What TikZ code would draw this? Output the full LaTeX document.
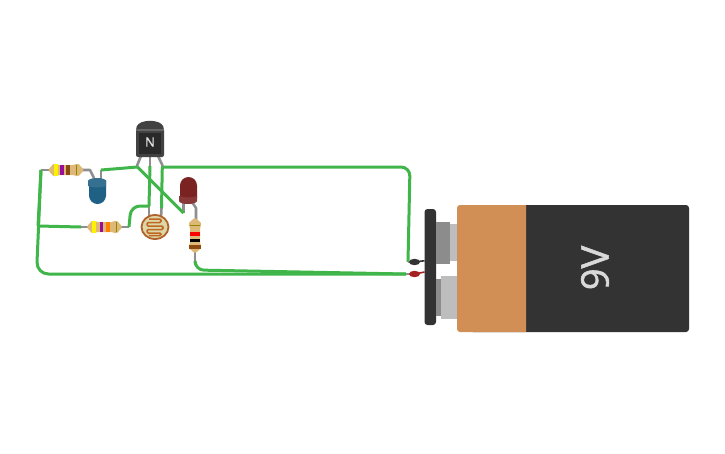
\documentclass[tikz,border=0pt]{standalone}
\usepackage{fontspec}
\setmainfont{Open Sans}
\newfontfamily\thickfont[FakeBold=1.5]{Open Sans}
\usepackage{tikz}
\definecolor{wiregreen}{HTML}{3FB54A}
\definecolor{leadgray}{HTML}{8F8F8F}
\definecolor{battblack}{HTML}{333333}
\definecolor{battorange}{HTML}{D18F55}
\definecolor{resbody}{HTML}{DDB877}
\definecolor{ledblue}{HTML}{1F6085}
\definecolor{ledred}{HTML}{7B2222}
\definecolor{ldrbrown}{HTML}{B0622A}
\definecolor{ldrfill}{HTML}{DDD6A6}
\definecolor{resviolet}{HTML}{9A0F9A}
\definecolor{resbrown}{HTML}{8B4A12}
\definecolor{clipred}{HTML}{A62222}
\tikzset{
  wire/.style={draw=wiregreen, line width=3pt, rounded corners=9pt},
  lead/.style={draw=leadgray, line width=2.6pt, line join=round},
}
\newcommand{\resband}[3]{\fill[#3] (#1,-5) rectangle (#2,5);}
\newcommand{\resbodyshape}{
  \fill[resbody, rounded corners=1.5pt] (-18,0) -- (-12,-6.800) -- (-8,-5) -- (8,-5) -- (12,-6.800) -- (18,0) -- (12,6.800) -- (8,5) -- (-8,5) -- (-12,6.800) -- cycle;
}
\begin{document}
\begin{tikzpicture}[x=1pt, y=-1pt]
  \useasboundingbox (0,0) rectangle (725,453);
  % terminals
  \coordinate (rone a) at (41,170);
  \coordinate (rtwo a) at (81,227);
  \coordinate (rtwo b) at (129,227);
  \coordinate (rthree b) at (195,263);
  \coordinate (blue b) at (101,170);
  \coordinate (npn c) at (137.500,167);
  \coordinate (npn b) at (150,166);
  \coordinate (npn e) at (162.300,167);
  \coordinate (red a) at (183.500,213);
  \coordinate (ldr a) at (149,206);
  \coordinate (ldr b) at (161.500,208);
  \coordinate (clip neg) at (408,262);
  \coordinate (clip pos) at (406,274);
  \coordinate (rail) at (38,226);
  % leads
  \draw[lead] (rone a) -- (50,170);
  \draw[lead] (82,170) -- (90,170) -- (94,178);
  \draw[lead] (blue b) -- (101,180);
  \draw[lead] (rtwo a) -- (88,227);
  \draw[lead] (121,227) -- (rtwo b);
  \draw[lead] (npn c) -- (137.300,165) -- (141,156);
  \draw[lead] (npn b) -- (150,156);
  \draw[lead] (npn e) -- (162.300,165) -- (158,156);
  \draw[lead] (ldr a) -- (149,218);
  \draw[lead] (ldr b) -- (161,218);
  \draw[lead] (red a) -- (183.500,200);
  \draw[lead] (192,202) -- (196,208) -- (196,222);
  \draw[lead] (rthree b) -- (195,250);
  % blue led
  \fill[ledblue] (89,180) -- (106,180) -- (106,195.500) arc (0:180:8.500) -- cycle;
  \fill[ledblue!90!white] (88,181) arc (180:360:9 and 3) -- (106,186) .. controls (100,188) and (94,188) .. (88,186) -- cycle;
  % npn
  \fill[black!74, rounded corners=2pt] (136,157) -- (136,128) .. controls (140,119) and (160,119) .. (164,128) -- (164,157) -- cycle;
  \fill[black!60] (136,128.500) -- (164,128.500) -- (164,130.500) -- (136,130.500) -- cycle;
  \fill[black!84] (139,133) rectangle (161,154);
  \node[text=white!88!black, font=\thickfont\fontsize{13}{13}\selectfont] (npn label) at (150,142) {N};
  % red led
  \fill[ledred] (180,198) -- (180,185.500) arc (180:360:8.500) -- (197,198) -- cycle;
  \fill[ledred!90!white] (179,196) .. controls (185,198) and (191,198) .. (197,196) -- (197,201) arc (0:180:9 and 3) -- cycle;
  % resistors
  \begin{scope}[shift={(66,170)}]
    \resbodyshape
    \fill[yellow] (-12.500,-6.300) rectangle (-8.500,6.300);
    \resband{-6}{-2.500}{resviolet}
    \resband{0}{3.500}{resbrown}
    \resband{9.500}{10.500}{olive}
  \end{scope}
  \begin{scope}[shift={(104.500,227)}]
    \resbodyshape
    \fill[yellow] (-12.500,-6.300) rectangle (-8.500,6.300);
    \resband{-5}{-1.500}{resviolet}
    \resband{1.500}{5.500}{orange}
    \resband{11.500}{12.500}{olive}
  \end{scope}
  \begin{scope}[shift={(195,235.500)}, rotate=90]
    \resbodyshape
    \fill[resbrown] (-13,-6.300) rectangle (-9.500,6.300);
    \resband{-6.500}{-3.500}{black}
    \resband{0}{3.500}{red}
    \resband{10}{11}{olive}
  \end{scope}
  % ldr
  \draw[fill=ldrfill, draw=ldrbrown, line width=1.8pt] (155,227) ellipse (13.500 and 12);
  \draw[draw=ldrbrown!80!orange, line width=1.5pt, rounded corners=1.2pt] (149,219) -- (161,219) -- (161,222.500) -- (147,222.500) -- (147,226) -- (163,226) -- (163,229.500) -- (147,229.500) -- (147,233) -- (161,233) -- (161,235.500) -- (149,235.500);
  % wires
  \draw[wire] (rone a) -- (rail);
  \draw[wire] (rail) -- (rtwo a);
  \draw[wire, rounded corners=12pt] (rone a) -- (36.500,274) -- (clip pos);
  \draw[wire] (blue b) -- (npn c);
  \draw[wire, rounded corners=0pt] (npn c) -- (red a);
  \draw[wire] (npn b) -- (ldr a);
  \draw[wire] (ldr a) -- (131,206) -- (rtwo b);
  \draw[wire] (npn e) -- (ldr b);
  \draw[wire] (npn e) -- (410,167) -- (clip neg);
  \draw[wire] (rthree b) -- (195,270) -- (clip pos);
  % battery
  \fill[battblack, rounded corners=3pt] (424.500,209) rectangle (436,325);
  \fill[black!45] (436,222) rectangle (449.500,264);
  \fill[black!26] (449.500,224) rectangle (458,261);
  \fill[black!45] (436,279) rectangle (441,316);
  \fill[black!26] (441,276) rectangle (458,319);
  \fill[battblack, rounded corners=3pt] (470,205) rectangle (689,332);
  \fill[battorange] (526,205) [rounded corners=3pt] -- (457,205) -- (457,332) [sharp corners] -- (526,332) -- cycle;
  \node[rotate=90, text=black!15, font=\thickfont\fontsize{38}{38}\selectfont] (batt label) at (595,268) {9V};
  % clips
  \draw[lead] (clip neg) -- (411,262);
  \draw[battblack, line width=1.6pt] (415,262) -- (424.500,260.700);
  \fill[battblack] (414.500,262) ellipse (5.500 and 3.200);
  \draw[lead] (clip pos) -- (411,274);
  \draw[clipred, line width=1.6pt] (415,274) -- (424.500,272);
  \fill[clipred] (414.500,274) ellipse (5.500 and 3.200);
\end{tikzpicture}
\end{document}
